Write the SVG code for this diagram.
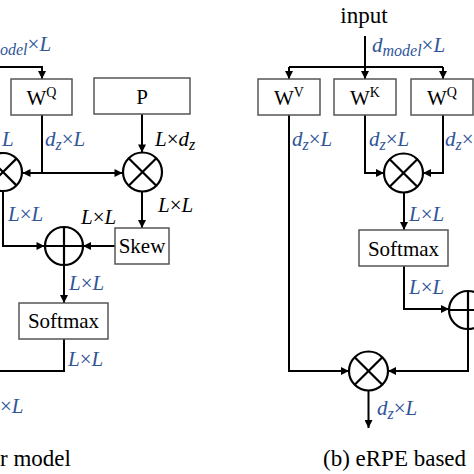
<svg xmlns="http://www.w3.org/2000/svg" width="474" height="474" viewBox="0 0 474 474">
<style>
.box{fill:#fff;stroke:#555;stroke-width:1.5}
.ln{fill:none;stroke:#000;stroke-width:2}
.arr{fill:none;stroke:#000;stroke-width:2;marker-end:url(#ah)}
.op{fill:#fff;stroke:#000;stroke-width:2.2}
.opl{stroke:#000;stroke-width:2.2}
.bt{font-family:"Liberation Serif",serif;font-size:21px;fill:#000}
.m{font-family:"Liberation Serif",serif;font-style:italic;font-size:21px;fill:#2F5597}
.mk{font-family:"Liberation Serif",serif;font-style:italic;font-size:21px;fill:#000}
.x{font-style:normal}
.cap{font-family:"Liberation Serif",serif;font-size:23px;fill:#000}
</style>
<defs>
<marker id="ah" markerUnits="userSpaceOnUse" markerWidth="9" markerHeight="8" viewBox="0 0 10 10" refX="10" refY="5" orient="auto">
<path d="M0,0 L10,5 L0,10 z" fill="#000"/>
</marker>
</defs>
<rect width="474" height="474" fill="#fff"/>

<g id="connectors">
<path class="arr" d="M0,67 H42 V79"/>
<path class="ln" d="M42,115 V173"/>
<path class="arr" d="M42,173 H22.5"/>
<path class="arr" d="M42,173 H122.5"/>
<path class="arr" d="M142,114 V152.5"/>
<path class="arr" d="M3,191 V246 H44.5"/>
<path class="arr" d="M142,191.5 V228"/>
<path class="arr" d="M115,246 H83"/>
<path class="arr" d="M64,265 V303"/>
<path class="ln" d="M64,339 V371 H0"/>

<path class="arr" d="M365,36 V79"/>
<path class="ln" d="M289,67 H443"/>
<path class="arr" d="M289,67 V79"/>
<path class="arr" d="M443,67 V79"/>
<path class="arr" d="M289,115 V371 H349"/>
<path class="arr" d="M365,115 V173 H384"/>
<path class="arr" d="M443,115 V173 H423"/>
<path class="arr" d="M404,192.5 V230"/>
<path class="arr" d="M404,266 V309 H449"/>
<path class="arr" d="M468,329 V371 H388"/>
<path class="arr" d="M368.5,390.5 V428"/>
</g>

<g id="labels">
<text class="m" x="0" y="51"><tspan font-size="16" dy="4">odel</tspan><tspan class="x" dy="-4">×</tspan>L</text>
<text class="m" x="2" y="146">L</text>
<text class="m" x="45" y="146">d<tspan font-size="16" dy="4">z</tspan><tspan class="x" dy="-4">×</tspan>L</text>
<text class="mk" x="155" y="146">L<tspan class="x">×</tspan>d<tspan font-size="16" dy="4">z</tspan></text>
<text class="m" x="8" y="221">L<tspan class="x">×</tspan>L</text>
<text class="mk" x="81" y="224">L<tspan class="x">×</tspan>L</text>
<text class="mk" x="158" y="212">L<tspan class="x">×</tspan>L</text>
<text class="m" x="69" y="290">L<tspan class="x">×</tspan>L</text>
<text class="m" x="68" y="366">L<tspan class="x">×</tspan>L</text>
<text class="m" x="0" y="413"><tspan class="x">×</tspan>L</text>
<text class="cap" x="0" y="466">r model</text>

<text class="cap" x="364" y="23" text-anchor="middle">input</text>
<text class="m" x="372" y="52">d<tspan font-size="16" dy="4">model</tspan><tspan class="x" dy="-4">×</tspan>L</text>
<text class="m" x="292" y="146">d<tspan font-size="16" dy="4">z</tspan><tspan class="x" dy="-4">×</tspan>L</text>
<text class="m" x="369" y="146">d<tspan font-size="16" dy="4">z</tspan><tspan class="x" dy="-4">×</tspan>L</text>
<text class="m" x="445" y="146">d<tspan font-size="16" dy="4">z</tspan><tspan class="x" dy="-4">×</tspan></text>
<text class="m" x="409" y="221">L<tspan class="x">×</tspan>L</text>
<text class="m" x="409" y="294">L<tspan class="x">×</tspan>L</text>
<text class="m" x="377" y="415">d<tspan font-size="16" dy="4">z</tspan><tspan class="x" dy="-4">×</tspan>L</text>
<text class="cap" x="323" y="466">(b) eRPE based</text>
</g>

<g id="a_WQ"><rect class="box" x="11" y="79" width="61" height="36"/><text class="bt" x="41.5" y="105" text-anchor="middle">W<tspan font-size="14" dy="-8">Q</tspan></text></g>
<g id="a_P"><rect class="box" x="94" y="78" width="96" height="36"/><text class="bt" x="142" y="104" text-anchor="middle">P</text></g>
<g id="a_mulL"><circle class="op" cx="3" cy="172" r="19"/><path class="opl" d="M-10.4,158.6 L16.4,185.4 M16.4,158.6 L-10.4,185.4"/></g>
<g id="a_mulR"><circle class="op" cx="142.5" cy="172" r="19.5"/><path class="opl" d="M128.7,158.2 L156.3,185.8 M156.3,158.2 L128.7,185.8"/></g>
<g id="a_plus"><circle class="op" cx="64" cy="246" r="19"/><path class="opl" d="M64,227 V265 M45,246 H83"/></g>
<g id="a_skew"><rect class="box" x="115" y="228" width="54" height="36"/><text class="bt" x="142" y="253" text-anchor="middle">Skew</text></g>
<g id="a_softmax"><rect class="box" x="19" y="303" width="89" height="36"/><text class="bt" x="63.5" y="328" text-anchor="middle">Softmax</text></g>

<g id="b_WV"><rect class="box" x="258" y="79" width="62" height="36"/><text class="bt" x="289" y="105" text-anchor="middle">W<tspan font-size="14" dy="-8">V</tspan></text></g>
<g id="b_WK"><rect class="box" x="334" y="79" width="62" height="36"/><text class="bt" x="365" y="105" text-anchor="middle">W<tspan font-size="14" dy="-8">K</tspan></text></g>
<g id="b_WQ"><rect class="box" x="411" y="79" width="62" height="36"/><text class="bt" x="442" y="105" text-anchor="middle">W<tspan font-size="14" dy="-8">Q</tspan></text></g>
<g id="b_mul1"><circle class="op" cx="403.5" cy="173" r="19.5"/><path class="opl" d="M389.7,159.2 L417.3,186.8 M417.3,159.2 L389.7,186.8"/></g>
<g id="b_softmax"><rect class="box" x="359" y="230" width="89" height="36"/><text class="bt" x="403.5" y="256" text-anchor="middle">Softmax</text></g>
<g id="b_plus"><circle class="op" cx="468" cy="310" r="19"/><path class="opl" d="M468,291 V329 M449,310 H487"/></g>
<g id="b_mul2"><circle class="op" cx="368.5" cy="371" r="19.5"/><path class="opl" d="M354.7,357.2 L382.3,384.8 M382.3,357.2 L354.7,384.8"/></g>
</svg>
